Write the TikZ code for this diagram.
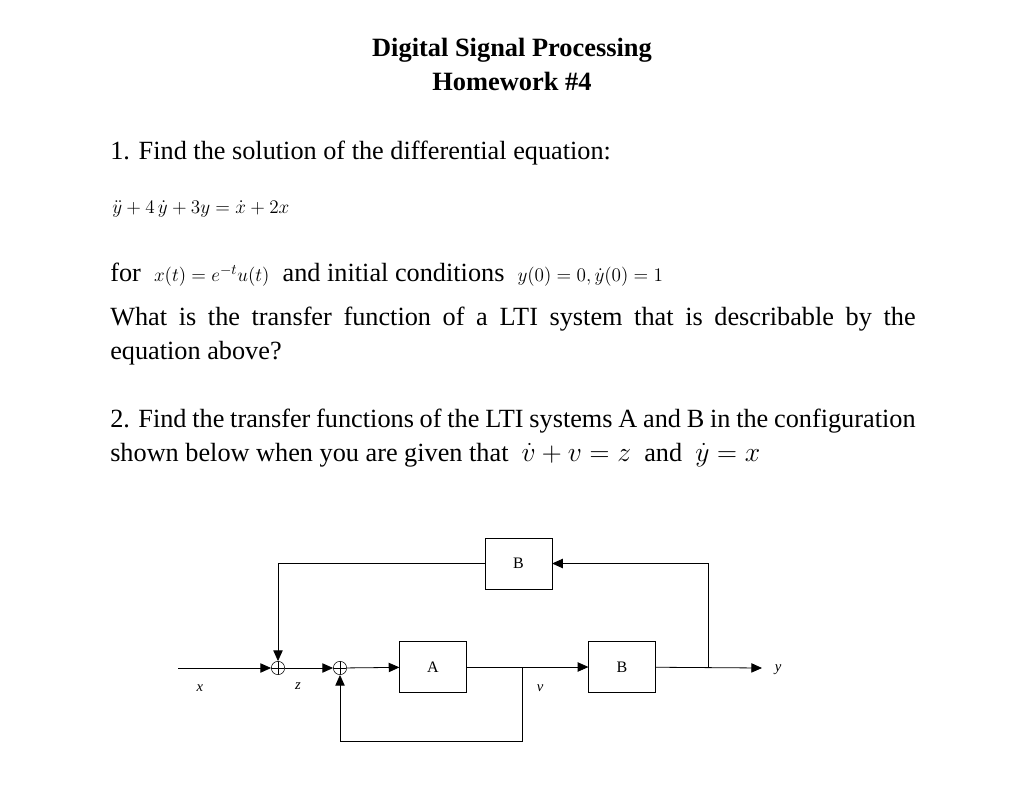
\documentclass[tikz,border=0pt]{standalone}
\usepackage{fontspec}
\setmainfont{Liberation Serif}
\usetikzlibrary{arrows.meta}
\begin{document}
\begin{tikzpicture}[x=0.75pt,y=-0.75pt,
  txt/.style={anchor=base west,inner sep=0pt,font=\fontsize{19.7}{24}\selectfont},
  blk/.style={draw,minimum width=50pt,minimum height=38pt,inner sep=0pt,font=\fontsize{12}{14}\selectfont},
  sumc/.style={draw,circle,minimum size=10pt,inner sep=0pt,path picture={\draw (path picture bounding box.north)--(path picture bounding box.south) (path picture bounding box.west)--(path picture bounding box.east);}},
  arr/.style={-{Triangle[length=8pt,width=7pt]},line width=0.6pt},
  lab/.style={font=\itshape\fontsize{11}{13}\selectfont,inner sep=0pt}]
\useasboundingbox (0,0) rectangle (1024,807);
\node[anchor=base,font=\bfseries\fontsize{19.8}{24}\selectfont,inner sep=0pt] (t1) at (512,56) {Digital Signal Processing};
\node[anchor=base,font=\bfseries\fontsize{19.8}{24}\selectfont,inner sep=0pt] (t2) at (512,90) {Homework \#4};
\node[txt] (p1) at (110,159) {1. Find the solution of the differential equation:};
\node[txt,font=\fontsize{15.5}{18}\selectfont] (eq) at (112,213) {$\ddot{y}+4\,\dot{y}+3y=\dot{x}+2x$};
\node[txt] (p2) at (110,281) {for\ \ {\fontsize{15.5}{18}\selectfont$x(t)=e^{-t}u(t)$}\ \ and initial conditions\ \ {\fontsize{15.5}{18}\selectfont$y(0)=0,\dot{y}(0)=1$}};
\node[txt,anchor=north west,text width=604pt,align=justify,font=\fontsize{19.7}{25.5}\selectfont] (p3) at (110,307) {\hyphenpenalty=10000 What is the transfer function of a LTI system that is describable by the\linebreak equation above?};
\node[txt,anchor=north west,text width=604pt,align=justify,font=\fontsize{19.7}{25.5}\selectfont] (p4) at (110,409) {2. Find the transfer functions of the LTI systems A and B in the configuration shown below when you are given that\ \ $\dot v+v=z$\ \ and\ \ $\dot y=x$};
% diagram
\node[blk] (Bt) at (518.5,563.5) {B};
\node[blk] (A) at (433,667) {A};
\node[blk] (Bb) at (622,667) {B};
\node[sumc] (s1) at (278,668) {};
\node[sumc] (s2) at (340,668) {};
\coordinate (xin) at (178,668);
\coordinate (yout) at (762,668);
\coordinate (br) at (708,668);
\coordinate (bv) at (522,668);
\draw[arr] (xin) -- (s1);
\draw[arr] (s1) -- (s2);
\draw[arr] (s2) -- (A);
\draw[arr] (A) -- (Bb);
\draw[arr] (Bb) -- (yout);
\draw[arr] (br) |- (Bt);
\draw[arr] (Bt.west) -| (s1);
\draw[arr] (bv) -- (522,741) -| (s2);
\node[lab] (lx) at (200,688) {x};
\node[lab] (lz) at (298,686) {z};
\node[lab] (lv) at (540,688) {v};
\node[lab] (ly) at (778,670) {y};
\end{tikzpicture}
\end{document}
